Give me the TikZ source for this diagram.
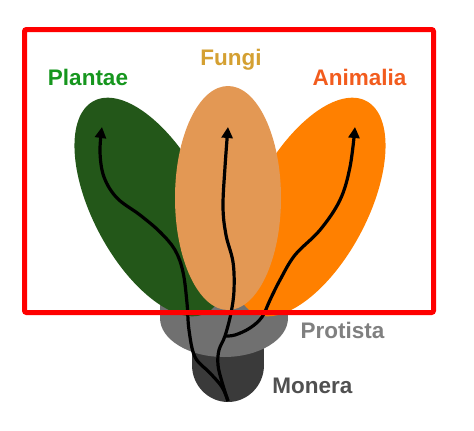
\documentclass[tikz,border=0pt]{standalone}
\usepackage{fontspec}
\setmainfont{Liberation Sans}
\usetikzlibrary{arrows.meta}
\definecolor{leafgreen}{RGB}{35,87,25}
\definecolor{fungicol}{RGB}{227,152,84}
\definecolor{animcol}{RGB}{255,128,0}
\definecolor{protcol}{RGB}{112,112,112}
\definecolor{monecol}{RGB}{58,58,58}
\definecolor{plantxt}{RGB}{22,150,30}
\definecolor{fungtxt}{RGB}{212,160,50}
\definecolor{animtxt}{RGB}{242,92,30}
\definecolor{prottxt}{RGB}{128,128,128}
\definecolor{monetxt}{RGB}{80,80,80}
\begin{document}
\begin{tikzpicture}[x=1pt,y=-1pt,
  lbl/.style={font=\fontsize{22.5}{26}\selectfont\bfseries, anchor=base, inner sep=0pt},
  branch/.style={line width=3.2pt, black, -{Triangle[length=11pt,width=11pt]}}]
\useasboundingbox (0,0) rectangle (474,431);
% Monera
\fill[monecol] (192,338) rectangle (264,365);
\fill[monecol] (228,365) ellipse [x radius=36, y radius=37];
% Protista
\fill[protcol] (160,294) rectangle (288,318);
\fill[protcol] (224,318) ellipse [x radius=64, y radius=39];
% leaves
\fill[leafgreen, rotate around={28:(150,207)}] (150,207) ellipse [x radius=57, y radius=120];
\fill[animcol, rotate around={-28:(310,207)}] (310,207) ellipse [x radius=57, y radius=120];
\fill[fungicol] (228,198) ellipse [x radius=53, y radius=112];
% tree
\coordinate (root) at (228,401);
\coordinate (join) at (225,336);
\coordinate (tipP) at (102,127);
\coordinate (tipF) at (228,127);
\coordinate (tipA) at (355,127);
\draw[branch] plot[smooth, tension=0.6] coordinates {(root) (222,387) (210,373) (195,357) (189,330) (187,303) (183,272) (175,250) (160,232) (140,215) (117,198) (104,177) (100,152) (tipP)};
\draw[branch] plot[smooth, tension=0.6] coordinates {(root) (222,382) (218,365) (219,350) (join) (231,313) (234,290) (233,262) (226,235) (223,207) (225,167) (tipF)};
\draw[branch] plot[smooth, tension=0.6] coordinates {(join) (235,335) (250,328) (262,317) (270,300) (280,280) (295,255) (320,230) (340,200) (350,167) (tipA)};
% frame
\draw[red, line width=5pt, rounded corners=2pt] (24.5,29.5) rectangle (433.5,312.5);
% labels
\node[lbl, text=plantxt] (plantae) at (88,85) {Plantae};
\node[lbl, text=fungtxt] (fungi) at (231,65) {Fungi};
\node[lbl, text=animtxt] (animalia) at (359.5,85) {Animalia};
\node[lbl, text=prottxt] (protista) at (342.5,338) {Protista};
\node[lbl, text=monetxt] (monera) at (312.5,393) {Monera};
\end{tikzpicture}
\end{document}
